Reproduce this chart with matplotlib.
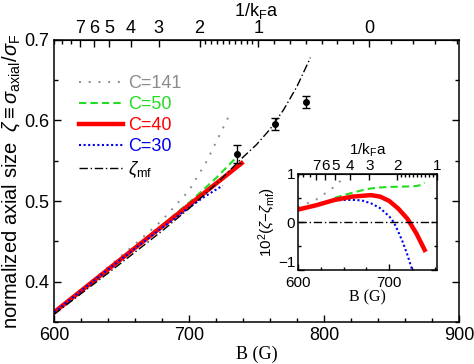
import numpy as np
import matplotlib
matplotlib.use("Agg")
import matplotlib.pyplot as plt

plt.rcParams['font.family'] = ['Liberation Sans', 'DejaVu Sans']
plt.rcParams['mathtext.fontset'] = 'custom'
plt.rcParams['mathtext.rm'] = 'Liberation Sans'
plt.rcParams['mathtext.it'] = 'Liberation Sans:italic'

# ---- donnees ----
# courbe zeta_mf (champ moyen)
B_mf = [600, 620, 640, 660, 680, 700, 720, 739, 750, 760, 770, 780, 790]
z_mf = [0.3594, 0.3851, 0.4106, 0.4366, 0.4629, 0.4907, 0.5210, 0.5528,
        0.570, 0.589, 0.613, 0.642, 0.678]

# C=141 (gris)
B_141 = [600, 620, 640, 660, 680, 700, 713, 730]
z_141 = [0.3625, 0.3898, 0.4180, 0.4466, 0.476, 0.513, 0.549, 0.607]
# C=50 (vert)
B_50 = [600, 620, 640, 660, 680, 700, 720, 738]
z_50 = [0.362, 0.3886, 0.4156, 0.4427, 0.4699, 0.498, 0.5284, 0.5592]
# C=40 (rouge)
B_40 = [600, 620, 640, 660, 680, 700, 720, 739]
z_40 = [0.362, 0.3886, 0.4152, 0.4419, 0.4685, 0.4951, 0.5217, 0.547]
# C=30 (bleu)
B_30 = [600, 620, 640, 660, 680, 700, 710, 720, 725]
z_30 = [0.362, 0.3886, 0.4151, 0.4412, 0.4668, 0.4919, 0.5038, 0.5142, 0.5192]

# points experimentaux
B_exp = [735.5, 763.7, 786.7]
z_exp = [0.558, 0.596, 0.623]
err_exp = [0.011, 0.0075, 0.0075]

# encart : 10^2 (zeta - zeta_mf)
Bi_141 = [600, 610, 620, 630, 640, 650, 656]
d_141 = [0.30, 0.39, 0.47, 0.60, 0.74, 0.92, 1.05]
Bi_50 = [640, 650, 660, 670, 680, 690, 700, 710, 720, 730, 735, 739]
d_50 = [0.50, 0.56, 0.61, 0.66, 0.70, 0.72, 0.73, 0.735, 0.74, 0.75, 0.77, 0.82]
Bi_40 = [600, 620, 640, 660, 680, 690, 700, 710, 720, 730, 739]
d_40 = [0.26, 0.35, 0.46, 0.53, 0.56, 0.53, 0.44, 0.28, 0.07, -0.24, -0.58]
Bi_30 = [640, 650, 660, 670, 680, 690, 700, 705, 710, 715, 720, 725]
d_30 = [0.45, 0.46, 0.46, 0.45, 0.39, 0.29, 0.12, 0.0, -0.2, -0.42, -0.68, -0.98]

# correspondance B <-> 1/kFa (axe du haut)
inv_tab = [10, 9, 8, 7, 6, 5, 4, 3, 2, 1, 0, -1]
B_tab = [602.4, 608.1, 614.8, 621.7, 631.6, 642.7, 658.7, 679.3, 709.4, 752.6, 834, 915]


def B_to_inv(B):
    return np.interp(B, B_tab, inv_tab)


def inv_to_B(x):
    return np.interp(x, inv_tab[::-1], B_tab[::-1])


styles = dict(
    c141=dict(color='#8c8c8c', ls=(0, (1, 4)), lw=1.4),
    c50=dict(color='#22dd22', ls=(0, (3.5, 2)), lw=1.5),
    c40=dict(color='#ff0000', ls='-', lw=3.2),
    c30=dict(color='#0000ee', ls=(0, (1, 1.2)), lw=1.5),
    mf=dict(color='black', ls=(0, (6, 2, 1, 2)), lw=1.0),
)

tick_kw = dict(direction='in', top=False, right=True)

fig = plt.figure(figsize=(4.74, 3.64), dpi=100)
ax = fig.add_axes([0.114, 0.1154, 0.854, 0.775])

ax.plot(B_141, z_141, label='C=141', **styles['c141'])
ax.plot(B_50, z_50, label='C=50', **styles['c50'])
ax.plot(B_40, z_40, label='C=40', **styles['c40'])
ax.plot(B_30, z_30, label='C=30', **styles['c30'])
ax.plot(B_mf, z_mf, label=r'$\zeta_{\rm mf}$', **styles['mf'])
ax.errorbar(B_exp, z_exp, yerr=err_exp, fmt='o', color='black', ms=4,
            capsize=3, elinewidth=1, capthick=1)

ax.set_xlim(600, 900)
ax.set_ylim(0.35, 0.7)
ax.set_xticks([600, 700, 800, 900])
ax.set_xticks(np.arange(600, 901, 20), minor=True)
ax.set_yticks([0.4, 0.5, 0.6, 0.7])
ax.set_yticklabels(['0.4', '0.5', '0.6', '0.7'])
ax.set_yticks(np.arange(0.35, 0.701, 0.05), minor=True)
ax.tick_params(which='both', labelsize=13, width=1, **tick_kw)
ax.tick_params(which='major', length=5)
ax.tick_params(which='minor', length=3)
for s in ax.spines.values():
    s.set_linewidth(1.1)
ax.set_xlabel('B (G)', family='Liberation Serif', fontsize=13, labelpad=1)
ax.set_ylabel(r'normalized axial size  $\zeta\equiv\sigma_{\rm axial}/\sigma_{\rm F}$',
              fontsize=14.5, labelpad=1)

top = ax.secondary_xaxis('top', functions=(B_to_inv, inv_to_B))
top.set_xticks([0, 1, 2, 3, 4, 5, 6, 7])
top.set_xticks([8, 9, 10] + list(np.arange(1.1, 2.0, 0.1))
               + list(np.linspace(0, 1, 8)[1:-1]) + [-0.2, -0.4, -0.6, -0.8],
               minor=True)
top.tick_params(which='both', direction='in', labelsize=13, width=1)
top.tick_params(which='major', length=5, pad=2)
top.tick_params(which='minor', length=3)
top.set_xlabel(r'1/k$_{\rm F}$a', fontsize=13, labelpad=3)

leg = ax.legend(loc='upper left', bbox_to_anchor=(0.045, 0.90), frameon=False,
                fontsize=13, handlelength=2.4, handletextpad=0.3,
                labelspacing=0.22, borderaxespad=0)
for txt, ln in zip(leg.get_texts(), leg.get_lines()):
    txt.set_color(ln.get_color())

# ---- encart ----
axi = fig.add_axes([0.629, 0.258, 0.293, 0.264])
axi.plot(Bi_141, d_141, **styles['c141'])
axi.plot(Bi_50, d_50, **styles['c50'])
axi.plot(Bi_30, d_30, **styles['c30'])
axi.plot(Bi_40, d_40, **styles['c40'])
axi.axhline(0, **styles['mf'])
axi.set_xlim(600, 752.6)
axi.set_ylim(-1, 1)
axi.set_xticks([600, 700])
axi.set_xticks(np.arange(600, 752, 25), minor=True)
axi.set_yticks([-1, 0, 1])
axi.set_yticklabels(['\u22121', '0', '1'])
axi.set_yticks([-0.5, 0.5], minor=True)
axi.tick_params(which='both', labelsize=11, width=1, pad=1, **tick_kw)
axi.tick_params(axis='x', pad=4)
axi.tick_params(axis='y', pad=2)
axi.tick_params(which='major', length=4)
axi.tick_params(which='minor', length=2.5)
for s in axi.spines.values():
    s.set_linewidth(1.1)
axi.set_xlabel('B (G)', family='Liberation Serif', fontsize=11.5, labelpad=0)
axi.set_ylabel(r'10$^2$($\zeta$$-$$\zeta_{\rm mf}$)', fontsize=11, labelpad=0)
# la graduation -1 est un peu remontee pour ne pas toucher 600
axi.get_yticklabels()[0].set_verticalalignment('bottom')

topi = axi.secondary_xaxis('top', functions=(B_to_inv, inv_to_B))
topi.set_xticks([1, 2, 3, 4, 5, 6, 7])
topi.set_xticks([8, 9, 10] + list(np.arange(1.1, 2.0, 0.1)), minor=True)
topi.tick_params(which='both', direction='in', labelsize=11, width=1, pad=1)
topi.tick_params(which='major', length=4)
topi.tick_params(which='minor', length=2.5)
topi.set_xlabel(r'1/k$_{\rm F}$a', fontsize=11, labelpad=3)

fig.savefig('out.png', dpi=100)
